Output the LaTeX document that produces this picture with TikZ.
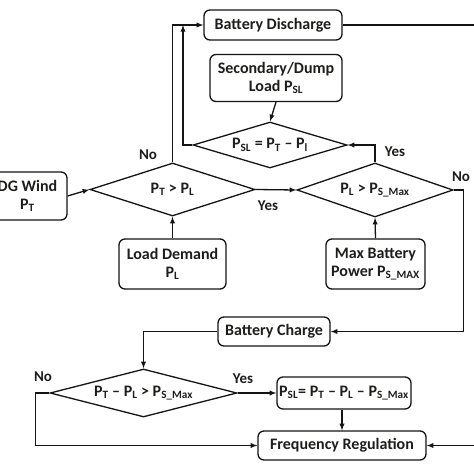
\documentclass[tikz,border=0pt]{standalone}
\usepackage{fontspec}
\setmainfont{Carlito}
\usepackage{tikz}
\usetikzlibrary{positioning,arrows,shapes.geometric}
\definecolor{colorline}{RGB}{20,20,20}
\definecolor{colortext}{RGB}{29,29,27}

\begin{document}
\begin{tikzpicture}[
    x=1pt, y=-1pt,
    font={\bfseries\fontsize{16}{18}\selectfont},
    line width=1.3pt,
    box/.style={draw=colorline,rounded corners=6pt,text=colortext,align=center,inner sep=1pt},
    test/.style={draw=colorline,diamond,aspect=3,inner sep=0pt,text=colortext},
    tag/.style={text=colortext,font={\bfseries\fontsize{15}{17}\selectfont}},
    arr/.style={-latex,draw=colorline},
]
    \useasboundingbox (0,0) rectangle (474,474);

    % boxes
    \node[box,minimum width=138pt,minimum height=30pt] (bdis) at (273,25) {Battery Discharge};
    \node[box,minimum width=132pt,minimum height=47pt] (sec) at (276,78) {Secondary/Dump\\Load P\textsubscript{SL}};
    \node[box,minimum width=79pt,minimum height=48pt] (dgw) at (27.5,196) {DG Wind\\P\textsubscript{T}};
    \node[box,minimum width=107pt,minimum height=50pt] (load) at (172.5,264) {Load Demand\\P\textsubscript{L}};
    \node[box,minimum width=99pt,minimum height=50pt] (maxb) at (375.5,264) {Max Battery\\Power P\textsubscript{S\_MAX}};
    \node[box,minimum width=112pt,minimum height=29pt] (bch) at (274,331.5) {Battery Charge};
    \node[box,minimum width=134pt,minimum height=32pt] (psl) at (344,393) {P\textsubscript{SL}= P\textsubscript{T} -- P\textsubscript{L} -- P\textsubscript{S\_Max}};
    \node[box,minimum width=168pt,minimum height=29pt] (freq) at (342,445.5) {Frequency Regulation};

    % decisions
    \node[test,minimum width=165pt,minimum height=53pt] (dpt) at (172.5,189.5) {P\textsubscript{T} > P\textsubscript{L}};
    \node[test,minimum width=156pt,minimum height=54pt] (dpl) at (375,190) {P\textsubscript{L} > P\textsubscript{S\_Max}};
    \node[test,minimum width=154pt,minimum height=46pt] (dsl) at (270,145) {P\textsubscript{SL} = P\textsubscript{T} -- P\textsubscript{l}};
    \node[test,minimum width=187pt,minimum height=48pt] (dch) at (143.5,393) {P\textsubscript{T} -- P\textsubscript{L} > P\textsubscript{S\_Max}};

    \coordinate (join) at (183,25);

    % connectors
    \draw[arr] (dgw.east) -- (dpt.west);
    \draw[arr] (dpt.east) -- (dpl.west);
    \draw[arr] (dpt.north) |- (bdis.west);
    \draw[arr] (dsl.west) -| (join);
    \draw[arr] (sec.south) -- (dsl.north);
    \draw[arr] (dpl.north) |- (dsl.east);
    \draw[arr] (load.north) -- (dpt.south);
    \draw[arr] (maxb.north) -- (dpl.south);
    \draw[arr] (dpl.east) -- ++(10,0) |- (bch.east);
    \draw[arr] (bch.west) -| (dch.north);
    \draw[arr] (dch.west) -- ++(-14,0) |- (freq.west);
    \draw[arr] (dch.east) -- (psl.west);
    \draw[arr] (psl.south -| freq.north) -- (freq.north);
    \draw[arr] (bdis.east) -- ++(150,0) |- (freq.east);

    % branch labels
    \node[tag] (no1) at (148,155) {No};
    \node[tag] (yes1) at (268,206) {Yes};
    \node[tag] (yes2) at (395,152) {Yes};
    \node[tag] (no2) at (461,177) {No};
    \node[tag] (no3) at (43,377) {No};
    \node[tag] (yes3) at (243,379) {Yes};

\end{tikzpicture}
\end{document}
